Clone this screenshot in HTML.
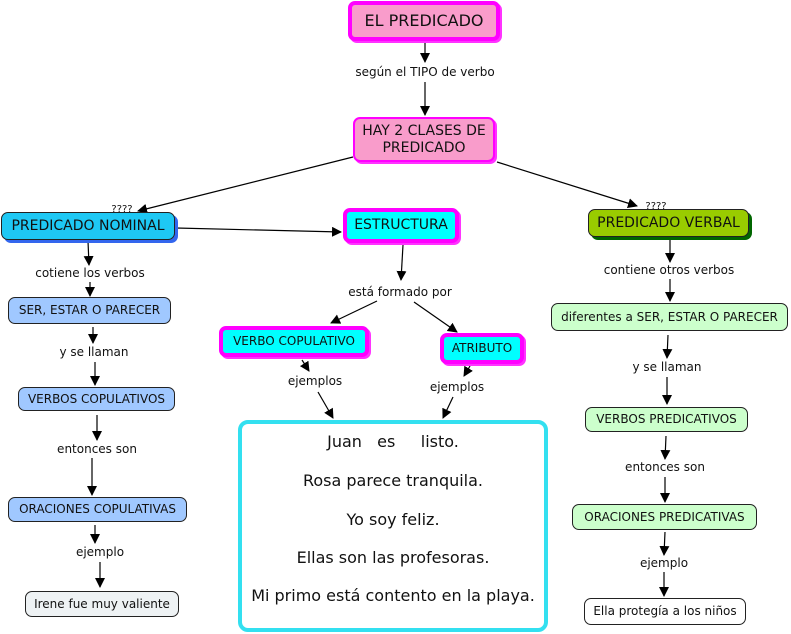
<!DOCTYPE html>
<html><head><meta charset="utf-8"><style>
body{margin:0;width:791px;height:634px;background:#fff;position:relative;overflow:hidden;font-family:"DejaVu Sans","Liberation Sans",sans-serif;color:#111}
.n{position:absolute;box-sizing:border-box;display:flex;align-items:center;justify-content:center;text-align:center;border:1px solid #222;border-radius:7px;line-height:1.2}
.m{border:4px solid #ff00ff;box-shadow:2px 2px 0 #ff33ff}
.l{position:absolute;font-size:12px;transform:translateX(-50%);white-space:nowrap;background:#fff;line-height:14px}
svg{position:absolute;left:0;top:0}
</style></head><body>
<svg width="791" height="634">
<defs><marker id="a" markerWidth="10" markerHeight="10" refX="9" refY="5" orient="auto" markerUnits="userSpaceOnUse"><path d="M0,0L10,5L0,10z" fill="#000"/></marker></defs>
<g stroke="#000" stroke-width="1.2" fill="none" marker-end="url(#a)">
<line x1="425" y1="42" x2="425" y2="62"/>
<line x1="425" y1="82" x2="425" y2="115"/>
<line x1="353" y1="157" x2="138" y2="211"/>
<line x1="497" y1="162" x2="637" y2="206"/>
<line x1="176" y1="228" x2="341" y2="232"/>
<line x1="88" y1="241" x2="89" y2="265"/>
<line x1="90" y1="282" x2="90" y2="296"/>
<line x1="93" y1="327" x2="93" y2="343"/>
<line x1="95" y1="362" x2="95" y2="385"/>
<line x1="97" y1="415" x2="97" y2="440"/>
<line x1="92" y1="458" x2="92" y2="495"/>
<line x1="95" y1="525" x2="95" y2="543"/>
<line x1="100" y1="562" x2="100" y2="587"/>
<line x1="403" y1="245" x2="401" y2="280"/>
<line x1="377" y1="301" x2="331" y2="323"/>
<line x1="414" y1="302" x2="457" y2="332"/>
<line x1="302" y1="360" x2="309" y2="371"/>
<line x1="318" y1="392" x2="333" y2="418"/>
<line x1="470" y1="366" x2="464" y2="376"/>
<line x1="453" y1="397" x2="443" y2="418"/>
<line x1="670" y1="239" x2="670" y2="262"/>
<line x1="670" y1="279" x2="670" y2="301"/>
<line x1="668" y1="335" x2="667" y2="358"/>
<line x1="667" y1="377" x2="667" y2="404"/>
<line x1="666" y1="436" x2="665" y2="459"/>
<line x1="665" y1="477" x2="665" y2="502"/>
<line x1="665" y1="532" x2="664" y2="555"/>
<line x1="664" y1="572" x2="664" y2="596"/>
</g></svg>

<div class="n m" style="left:348px;top:1px;width:152px;height:40px;background:#f99ccb;font-size:16px">EL PREDICADO</div>
<div class="l" style="left:425px;top:65px">según el TIPO de verbo</div>
<div class="n m" style="left:353px;top:117px;width:142px;height:45px;background:#f99ccb;font-size:14px;border-width:2px">HAY 2 CLASES DE<br>PREDICADO</div>
<div class="l" style="left:122px;top:203px;font-size:10px;background:none">????</div>
<div class="l" style="left:656px;top:200px;font-size:10px;background:none">????</div>

<div class="n" style="left:1px;top:212px;width:174px;height:28px;background:#1ec8f4;box-shadow:3px 3px 0 #3366ee;font-size:14px">PREDICADO NOMINAL</div>
<div class="n m" style="left:343px;top:208px;width:116px;height:35px;background:#00ffff;font-size:14px">ESTRUCTURA</div>
<div class="n" style="left:588px;top:209px;width:161px;height:28px;background:#99cc00;box-shadow:3px 3px 0 #006600;font-size:14px">PREDICADO VERBAL</div>

<div class="l" style="left:90px;top:266px">cotiene los verbos</div>
<div class="n" style="left:8px;top:297px;width:163px;height:27px;background:#a0c8ff;font-size:12px">SER, ESTAR O PARECER</div>
<div class="l" style="left:94px;top:345px">y se llaman</div>
<div class="n" style="left:18px;top:387px;width:157px;height:24px;background:#a0c8ff;font-size:12px">VERBOS COPULATIVOS</div>
<div class="l" style="left:97px;top:442px">entonces son</div>
<div class="n" style="left:8px;top:497px;width:179px;height:25px;background:#a0c8ff;font-size:12px">ORACIONES COPULATIVAS</div>
<div class="l" style="left:100px;top:545px">ejemplo</div>
<div class="n" style="left:25px;top:591px;width:154px;height:26px;background:#eef2f4;font-size:12px">Irene fue muy valiente</div>

<div class="l" style="left:400px;top:285px">está formado por</div>
<div class="n m" style="left:219px;top:326px;width:150px;height:31px;background:#00ffff;font-size:12px">VERBO COPULATIVO</div>
<div class="n m" style="left:440px;top:333px;width:84px;height:31px;background:#00ffff;font-size:12px">ATRIBUTO</div>
<div class="l" style="left:315px;top:374px">ejemplos</div>
<div class="l" style="left:457px;top:380px">ejemplos</div>

<div style="position:absolute;left:238px;top:420px;width:310px;height:212px;box-sizing:border-box;border:4px solid #33e0f0;border-radius:10px;font-size:16px;text-align:center">
<div style="position:absolute;top:8px;width:100%;white-space:pre">Juan   es     listo.</div>
<div style="position:absolute;top:47px;width:100%">Rosa parece tranquila.</div>
<div style="position:absolute;top:86px;width:100%">Yo soy feliz.</div>
<div style="position:absolute;top:124px;width:100%">Ellas son las profesoras.</div>
<div style="position:absolute;top:162px;width:100%;white-space:nowrap">Mi primo está contento en la playa.</div>
</div>

<div class="l" style="left:669px;top:263px">contiene otros verbos</div>
<div class="n" style="left:551px;top:303px;width:237px;height:28px;background:#ccffcc;font-size:12px">diferentes a SER, ESTAR O PARECER</div>
<div class="l" style="left:667px;top:360px">y se llaman</div>
<div class="n" style="left:585px;top:407px;width:163px;height:25px;background:#ccffcc;font-size:12px">VERBOS PREDICATIVOS</div>
<div class="l" style="left:665px;top:460px">entonces son</div>
<div class="n" style="left:572px;top:504px;width:185px;height:26px;background:#ccffcc;font-size:12px">ORACIONES PREDICATIVAS</div>
<div class="l" style="left:664px;top:556px">ejemplo</div>
<div class="n" style="left:584px;top:598px;width:162px;height:27px;background:#fff;font-size:12px">Ella protegía a los niños</div>
</body></html>
